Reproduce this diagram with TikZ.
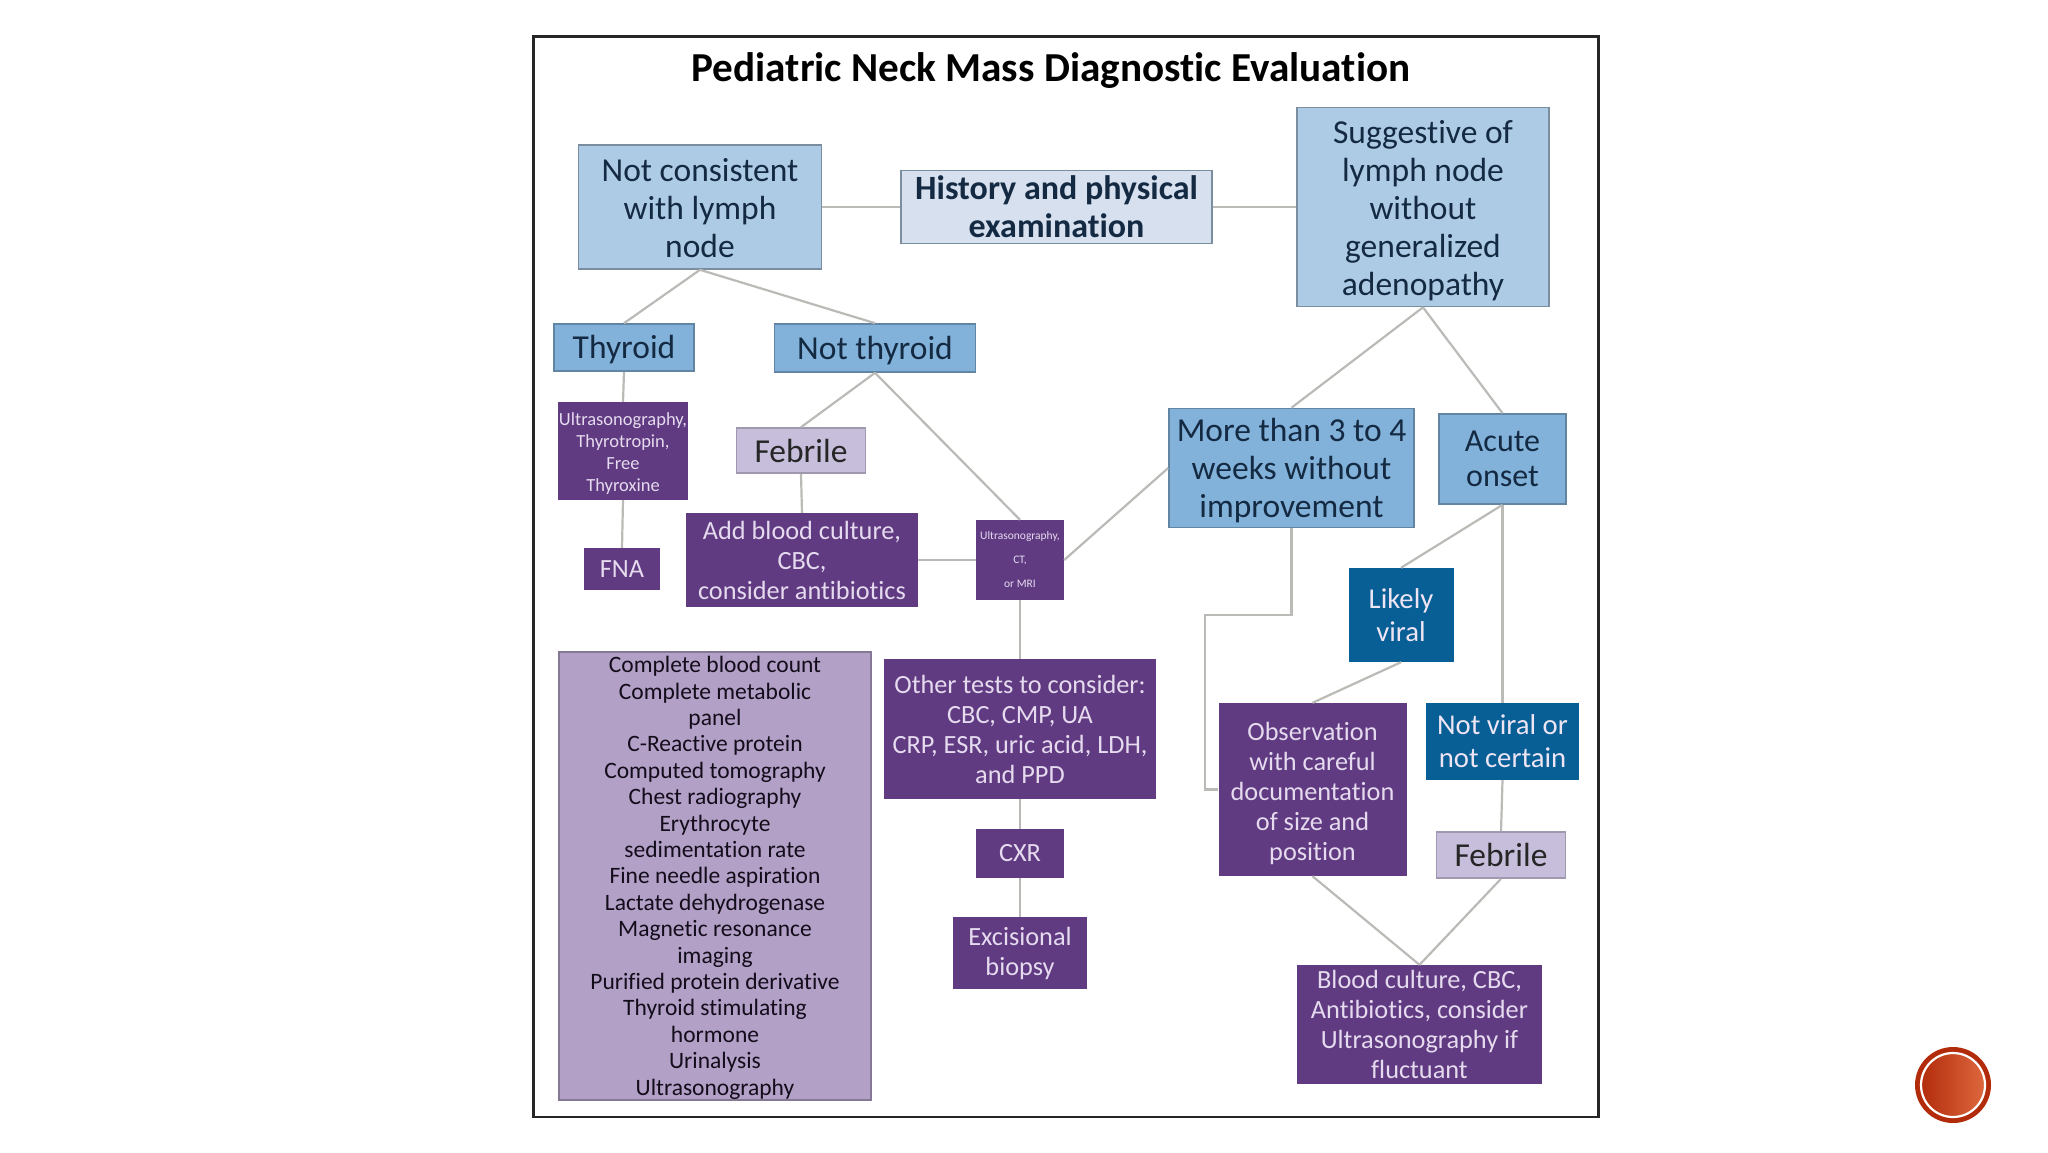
\documentclass[tikz,border=0pt]{standalone}
\usepackage{fontspec}
\setmainfont{Carlito}[Ligatures=NoCommon]
\definecolor{paleblue}{RGB}{174,203,229}
\definecolor{midblue}{RGB}{130,177,217}
\definecolor{deepblue}{RGB}{8,95,150}
\definecolor{paper}{RGB}{214,224,239}
\definecolor{plum}{RGB}{96,59,130}
\definecolor{lilac}{RGB}{199,190,219}
\definecolor{wisteria}{RGB}{178,160,199}
\definecolor{inkblue}{RGB}{20,42,66}
\definecolor{petal}{RGB}{229,218,238}
\definecolor{wire}{RGB}{186,186,182}
\definecolor{rust}{RGB}{178,44,12}
\definecolor{ember}{RGB}{222,104,62}
\newcommand{\topgap}[1]{\rule{0pt}{#1pt}}
\tikzset{
  fontL/.style={font=\fontsize{33.5}{38}\selectfont},
  fontM/.style={font=\fontsize{26.3}{30}\selectfont},
  fontS/.style={font=\fontsize{23.5}{26.4}\selectfont},
  block/.style={rectangle,inner sep=0pt,align=center},
  soft/.style={block,fontL,text=inkblue,fill=paleblue,draw=black!30!paleblue,line width=1.6pt},
  firm/.style={block,fontL,text=inkblue,fill=midblue,draw=black!25!midblue,line width=1.6pt},
  deep/.style={block,fontM,text=petal!70!white,fill=deepblue},
  plumbox/.style={block,fontM,text=petal,fill=plum},
  pale/.style={block,fontL,text=black!85,fill=lilac,draw=black!20!lilac,line width=1.6pt},
  wirepath/.style={draw=wire,line width=2.2pt},
}
\begin{document}
\begin{tikzpicture}[x=1pt,y=-1pt]
  \useasboundingbox (0,0) rectangle (2048,1152);

  \node [rectangle,draw=black!85,line width=2.4pt,minimum width=1065pt,minimum height=1080.5pt] (frame) at (1066,576.75) {};
  \node (title) at (1051,71) {\fontsize{41.2}{48}\selectfont\bfseries Pediatric Neck Mass Diagnostic Evaluation};

  % upper row
  \node [soft,minimum width=243pt,minimum height=124pt] (nonlymph) at (700,207) {\topgap{26}Not consistent\\with lymph\\node};
  \node [soft,fill=paper,font=\fontsize{34}{38}\selectfont\bfseries,minimum width=311pt,minimum height=73pt] (history) at (1056.5,207) {History and physical\\examination};
  \node [soft,minimum width=252pt,minimum height=199pt] (suggestive) at (1423,207) {\topgap{31}Suggestive of\\lymph node\\without\\generalized\\adenopathy};

  \node [firm,minimum width=140pt,minimum height=47pt] (thyroid) at (624,347.5) {\topgap{27.5}Thyroid};
  \node [firm,minimum width=201pt,minimum height=48pt] (notthyroid) at (875,348) {\topgap{27.5}Not thyroid};
  \node [firm,minimum width=245pt,minimum height=119pt] (weeks) at (1291.5,468) {\topgap{27.5}More than 3 to 4\\weeks without\\improvement};
  \node [firm,font=\fontsize{32}{35}\selectfont,minimum width=127pt,minimum height=90pt] (acute) at (1502.5,459) {Acute\\onset};

  % left column
  \node [plumbox,font=\fontsize{18.5}{22}\selectfont,minimum width=130pt,minimum height=98pt] (thyroidtests) at (623,451) {\topgap{17}Ultrasonography,\\Thyrotropin,\\Free\\Thyroxine};
  \node [plumbox,minimum width=76pt,minimum height=42pt] (fna) at (622,569) {FNA};
  \node [pale,minimum width=129pt,minimum height=45pt] (febrileA) at (801,450.5) {Febrile};
  \node [plumbox,minimum width=232pt,minimum height=94pt] (addculture) at (802,560) {Add blood culture,\\CBC,\\consider antibiotics};
  \node [plumbox,font=\fontsize{11.5}{24}\selectfont,minimum width=88pt,minimum height=80pt] (imaging) at (1020,560) {Ultrasonography,\\CT,\\or MRI};

  \node [block,fontS,text=black!80!plum,fill=wisteria,draw=black!25!wisteria,line width=1.6pt,minimum width=312pt,minimum height=448pt] (abbrev) at (715,876) {\topgap{20}Complete blood count\\Complete metabolic\\panel\\C-Reactive protein\\Computed tomography\\Chest radiography\\Erythrocyte\\sedimentation rate\\Fine needle aspiration\\Lactate dehydrogenase\\Magnetic resonance\\imaging\\Purified protein derivative\\Thyroid stimulating\\hormone\\Urinalysis\\Ultrasonography};

  \node [plumbox,minimum width=272pt,minimum height=140pt] (othertests) at (1020,729) {Other tests to consider:\\CBC, CMP, UA\\CRP, ESR, uric acid, LDH,\\and PPD};
  \node [plumbox,minimum width=88pt,minimum height=49pt] (cxr) at (1020,853.5) {CXR};
  \node [plumbox,minimum width=134pt,minimum height=72pt] (biopsy) at (1020,953) {Excisional\\biopsy};

  % right column
  \node [deep,font=\fontsize{28.7}{33}\selectfont,minimum width=105pt,minimum height=94pt] (viral) at (1401,615) {Likely\\viral};
  \node [deep,font=\fontsize{28.7}{33}\selectfont,minimum width=153pt,minimum height=77pt] (notviral) at (1502.5,741.5) {Not viral or\\not certain};
  \node [plumbox,minimum width=188pt,minimum height=173pt] (observe) at (1312.5,789.5) {\topgap{27}Observation\\with careful\\documentation\\of size and\\position};
  \node [pale,minimum width=129pt,minimum height=46pt] (febrileB) at (1501,855) {Febrile};
  \node [plumbox,minimum width=245pt,minimum height=119pt] (bloodculture) at (1419.5,1024.5) {Blood culture, CBC,\\Antibiotics, consider\\Ultrasonography if\\fluctuant};

  \foreach \n/\m in {nonlymph.east/history.west,history.east/suggestive.west,
    nonlymph.south/thyroid.north,nonlymph.south/notthyroid.north,
    thyroid.south/thyroidtests.north,thyroidtests.south/fna.north,
    notthyroid.south/febrileA.north,notthyroid.south/imaging.north,
    febrileA.south/addculture.north,addculture.east/imaging.west,
    imaging.east/weeks.west,imaging.south/othertests.north,
    othertests.south/cxr.north,cxr.south/biopsy.north,
    suggestive.south/weeks.north,suggestive.south/acute.north,
    acute.south/viral.north,acute.south/notviral.north,
    viral.south/observe.north,notviral.south/febrileB.north,
    observe.south/bloodculture.north,febrileB.south/bloodculture.north} {
    \draw [wirepath] (\n) -- (\m);
  }
  \coordinate (elbow) at (1205,615);
  \draw [wirepath] (weeks.south) |- (elbow) |- (observe.west);

  \node [circle,fill=rust,minimum size=76pt,inner sep=0pt] (badge) at (1953,1085) {};
  \node [circle,draw=white,line width=2.2pt,left color=rust,middle color=rust,right color=ember,minimum size=64pt,inner sep=0pt] (badgecore) at (badge) {};
\end{tikzpicture}
\end{document}
